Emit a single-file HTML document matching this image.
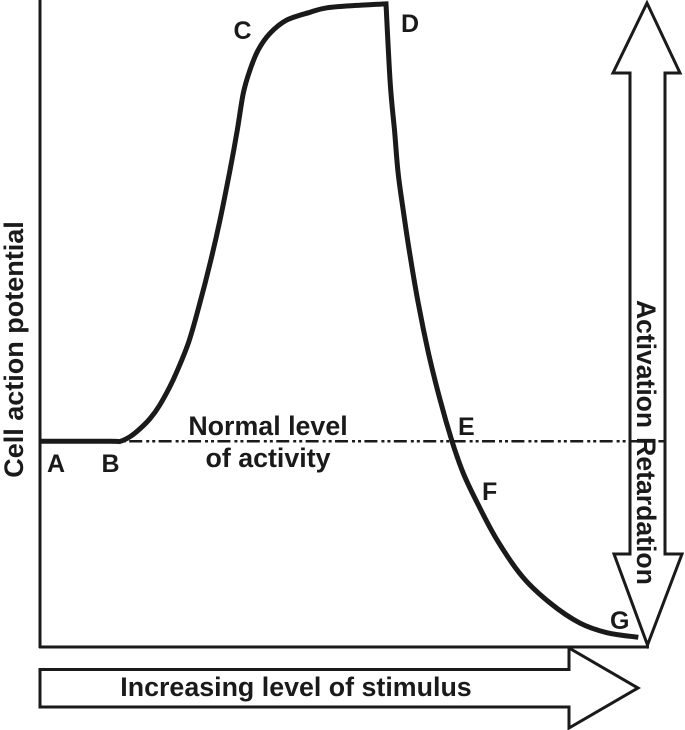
<!DOCTYPE html>
<html lang="en">
<head>
<meta charset="utf-8">
<title>Cell action potential vs stimulus</title>
<style>
html,body{margin:0;padding:0;background:#fff;}
body{width:685px;height:730px;overflow:hidden;}
svg{display:block;}
text{font-family:"Liberation Sans",sans-serif;font-weight:bold;fill:#1a1a1a;}
</style>
</head>
<body>
<svg id="chart" width="685" height="730" viewBox="0 0 685 730" xmlns="http://www.w3.org/2000/svg">
  <polygon points="40,669.5 569,669.5 569,648 638,688 569,728 569,707 40,707" fill="#fff" stroke="#1a1a1a" stroke-width="3" stroke-linejoin="miter"/>
  <polygon points="647,3 680,73 665,73 665,554 682,554 647.5,645 614,554 630,554 630,73 613,73" fill="#fff" stroke="#1a1a1a" stroke-width="3" stroke-linejoin="miter"/>
  <line x1="40" y1="0" x2="40" y2="648" stroke="#1a1a1a" stroke-width="3"/>
  <line x1="39" y1="647" x2="649" y2="647" stroke="#1a1a1a" stroke-width="3"/>
  <g id="overlay"></g>
  <text transform="translate(23,349.5) rotate(-90)" text-anchor="middle" font-size="27">Cell action potential</text>
  <text x="268" y="435" text-anchor="middle" font-size="26.8">Normal level</text>
  <text x="268" y="467" text-anchor="middle" font-size="26.8">of activity</text>
  <text x="296" y="696" text-anchor="middle" font-size="26.8">Increasing level of stimulus</text>
  <text transform="translate(637,364) rotate(90)" text-anchor="middle" font-size="26.5">Activation</text>
  <text transform="translate(637,511) rotate(90)" text-anchor="middle" font-size="26.6">Retardation</text>
  <text x="47" y="472" font-size="25">A</text>
  <text x="101.5" y="472" font-size="25">B</text>
  <text x="233.5" y="39" font-size="25">C</text>
  <text x="401" y="32" font-size="25">D</text>
  <text x="458" y="435" font-size="25">E</text>
  <text x="482" y="500" font-size="25">F</text>
  <text x="610" y="629" font-size="25">G</text>
</svg>
<script>
const stimulus = [0, 11.5, 13.2, 14.8, 16.4, 18.1, 19.7, 21.9, 24.4, 26.3, 28.0, 29.6, 31.25, 32.45, 33.44, 34.54, 35.9, 37.83, 40.58, 44.41, 47.2, 52.6, 56.9, 57.6, 58.3, 58.9, 59.8, 60.9, 62.2, 63.9, 65.8, 67.8, 69.6, 71.9, 75.2, 79.4, 83.9, 88.8, 93.3, 98.4];
const potential = [31.8, 31.8, 31.8, 32.5, 33.7, 35.3, 37.4, 41.3, 47.0, 53.2, 59.4, 66.0, 73.7, 79.9, 85.6, 89.2, 92.3, 94.85, 96.9, 98.1, 98.8, 99.2, 99.4, 87.2, 79.9, 73.3, 67.1, 60.3, 53.2, 45.4, 38.2, 31.7, 26.9, 22.3, 16.5, 10.8, 6.8, 3.7, 2.2, 1.5];
const normalLevel = [31.8];
const normalLevelRange = [9.84, 102.8];

function xScale(v) { return 40 + v * 6.08; }
function yScale(v) { return 647 - v * 6.47; }

function smoothPath(pts) {
  let d = '';
  for (let i = 0; i < pts.length - 1; i++) {
    const p0 = pts[Math.max(i - 1, 0)];
    const p1 = pts[i];
    const p2 = pts[i + 1];
    const p3 = pts[Math.min(i + 2, pts.length - 1)];
    const c1x = p1[0] + (p2[0] - p0[0]) / 6;
    const c1y = p1[1] + (p2[1] - p0[1]) / 6;
    const c2x = p2[0] - (p3[0] - p1[0]) / 6;
    const c2y = p2[1] - (p3[1] - p1[1]) / 6;
    d += ' C' + c1x.toFixed(1) + ',' + c1y.toFixed(1) + ' ' + c2x.toFixed(1) + ',' + c2y.toFixed(1) + ' ' + p2[0].toFixed(1) + ',' + p2[1].toFixed(1);
  }
  return d;
}

const NS = 'http://www.w3.org/2000/svg';
const overlay = document.getElementById('overlay');
const points = stimulus.map(function (s, i) { return [xScale(s), yScale(potential[i])]; });
const peak = potential.indexOf(Math.max.apply(null, potential));
const rising = points.slice(0, peak + 1);
const falling = points.slice(peak);
const pathData = 'M' + rising[0][0].toFixed(1) + ',' + rising[0][1].toFixed(1) + smoothPath(rising) + smoothPath(falling);

const refLine = document.createElementNS(NS, 'line');


refLine.setAttribute('x1', xScale(normalLevelRange[0]));
refLine.setAttribute('x2', xScale(normalLevelRange[1]));
refLine.setAttribute('y1', yScale(normalLevel[0]));
refLine.setAttribute('y2', yScale(normalLevel[0]));
refLine.setAttribute('stroke', '#1a1a1a');
refLine.setAttribute('stroke-width', '2.4');
refLine.setAttribute('stroke-dasharray', '13 4 3 3 3 3.4');
overlay.appendChild(refLine);

const curve = document.createElementNS(NS, 'path');


curve.setAttribute('d', pathData);
curve.setAttribute('fill', 'none');
curve.setAttribute('stroke', '#1a1a1a');
curve.setAttribute('stroke-width', '5');
curve.setAttribute('stroke-linejoin', 'miter');
overlay.appendChild(curve);
</script>
</body>
</html>
